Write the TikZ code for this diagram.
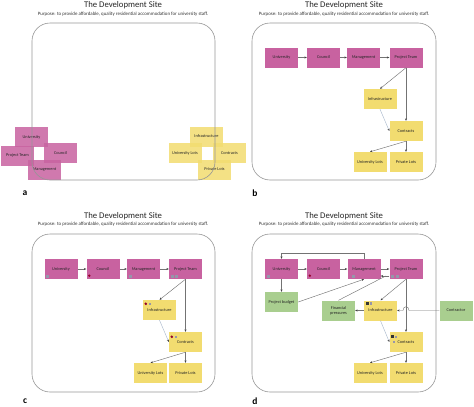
\documentclass[tikz,border=0pt]{standalone}
\usepackage{fontspec}
\setmainfont{Carlito}
\usetikzlibrary{arrows.meta,calc}
\definecolor{pk}{RGB}{200,98,160}
\definecolor{yl}{RGB}{242,220,112}
\definecolor{gr}{RGB}{169,206,143}
\definecolor{ed}{RGB}{115,115,115}
\definecolor{framec}{RGB}{150,150,150}
\definecolor{soft}{RGB}{170,185,205}
\definecolor{dot}{RGB}{150,0,40}
\definecolor{ico}{RGB}{150,150,170}
\begin{document}
\begin{tikzpicture}[x=1pt,y=-1pt,
 box/.style={minimum width=33pt,minimum height=20pt,inner sep=0pt,font=\fontsize{4.3}{5}\selectfont,text=black!85,align=center},
 pkbox/.style={box,fill=pk},
 ylbox/.style={box,fill=yl},
 grbox/.style={box,fill=gr},
 arr/.style={draw=ed,line width=0.45pt,-{Stealth[length=2.4pt,width=2pt,color=black!75]}},
 plain/.style={draw=ed,line width=0.45pt},
 softarr/.style={arr,draw=soft},
 site/.style={draw=framec,line width=0.6pt,rounded corners=18pt},
 ttl/.style={font=\fontsize{8.7}{10}\selectfont,text=black!85,inner sep=0pt},
 sub/.style={font=\fontsize{4.9}{6}\selectfont,text=black!80,inner sep=0pt},
 plabel/.style={font=\bfseries\fontsize{9.5}{11}\selectfont,inner sep=0pt},
 reddot/.style={fill=dot,draw=none},
 icon/.style={fill=ico,draw=none}]
\useasboundingbox (0,0) rectangle (474,407);

% ---------- titles ----------
\foreach \cx/\cy/\nm in {123/5.5/a,344/5.5/b,123/215.7/c,344/215.7/d}{
  \node[ttl] (t\nm) at (\cx,\cy) {The Development Site};
  \node[sub] (s\nm) at (\cx,\cy+8.2) {Purpose: to provide affordable, quality residential accommodation for university staff.};
}

% ---------- panel a ----------
\begin{scope}[every node/.append style={fill opacity=0.85,text opacity=1}]
\node[pkbox] (aU) at (31.5,137) {University};
\node[pkbox] (aC) at (60.5,153) {Council};
\node[pkbox] (aP) at (17.5,155.5) {Project Team};
\node[pkbox] (aM) at (44.5,169.5) {Management};
\node[ylbox] (aI) at (206.5,136.5) {Infrastructure};
\node[ylbox] (aL) at (185,153) {University Lots};
\node[ylbox] (aK) at (229.5,153) {Contracts};
\node[ylbox] (aR) at (214.5,169.5) {Private Lots};
\end{scope}
\draw[site] (32,23) rectangle (215,180);
\node[plabel] (la) at (25,193) {a};

% ---------- panel b ----------
\draw[site] (252,23) rectangle (436,180);
\node[pkbox] (bU) at (281.5,57.5) {University};
\node[pkbox] (bC) at (323.5,57.5) {Council};
\node[pkbox] (bM) at (363.5,57.5) {Management};
\node[pkbox] (bP) at (406,57.5) {Project Team};
\node[ylbox] (bI) at (380,99) {Infrastructure};
\node[ylbox] (bK) at (406,131) {Contracts};
\node[ylbox] (bL) at (370,162) {University Lots};
\node[ylbox] (bR) at (406,162) {Private Lots};
\draw[arr] (bU) -- (bC);
\draw[arr] (bC) -- (bM);
\draw[arr] (bM) -- (bP);
\draw[arr] (bP.south) -- (bI.north);
\draw[arr] (bP.south) -- (bK.north);
\draw[softarr] (bI.south) -- (bK.west);
\draw[arr] (bK.south) -- (bL.north);
\draw[arr] (bK.south) -- (bR.north);
\node[plabel] (lb) at (255,193) {b};

% ---------- panel c ----------
\draw[site] (32,234) rectangle (215,392);
\node[pkbox] (cU) at (61,269) {University};
\node[pkbox] (cC) at (103,269) {Council};
\node[pkbox] (cM) at (143.5,269) {Management};
\node[pkbox] (cP) at (185.5,269) {Project Team};
\node[ylbox] (cI) at (159.5,310) {Infrastructure};
\node[ylbox] (cK) at (185.5,342) {Contracts};
\node[ylbox] (cL) at (150.5,373) {University Lots};
\node[ylbox] (cR) at (185.5,373) {Private Lots};
\draw[arr] (cU) -- (cC);
\draw[arr] (cC) -- (cM);
\draw[arr] (cM) -- (cP);
\draw[arr] (cP.south) -- (cI.north);
\draw[arr] (cP.south) -- (cK.north);
\draw[softarr] (cI.south) -- (cK.west);
\draw[arr] (cK.south) -- (cL.north);
\draw[arr] (cK.south) -- (cR.north);
% markers
\fill[icon] ($(cU.south west)+(2,-4)$) rectangle ++(3,2.5);
\fill[reddot] ($(cC.south west)+(3,-3.5)$) circle (1.3);
\fill[icon] ($(cM.south west)+(2,-4)$) rectangle ++(3,2.5);
\fill[icon] ($(cP.south west)+(2,-4)$) rectangle ++(3,2.5);
\fill[icon] ($(cP.south west)+(6,-4)$) rectangle ++(3,2.5);
\fill[reddot] ($(cI.north west)+(3,4)$) circle (1.4);
\fill[icon] ($(cI.north west)+(6,2.8)$) rectangle ++(2,2.4);
\fill[reddot] ($(cK.north west)+(3,5)$) circle (1.4);
\fill[icon] ($(cK.north west)+(6,3.8)$) rectangle ++(2,2.4);
\node[plabel] (lc) at (25,401) {c};

% ---------- panel d ----------
\draw[site] (252,234) rectangle (436,392);
\node[pkbox] (dU) at (281.5,269) {University};
\node[pkbox] (dC) at (323.5,269) {Council};
\node[pkbox] (dM) at (364,269) {Management};
\node[pkbox] (dP) at (406,269) {Project Team};
\node[grbox] (dB) at (281.5,302) {Project budget};
\node[grbox] (dF) at (338.5,310.5) {Financial\\pressures};
\node[ylbox] (dI) at (380.5,310.5) {Infrastructure};
\node[grbox] (dX) at (456,310.5) {Contractor};
\node[ylbox] (dK) at (406,342) {Contracts};
\node[ylbox] (dL) at (370,373) {University Lots};
\node[ylbox] (dR) at (406,373) {Private Lots};
\draw[arr] (dU) -- (dC);
\draw[arr] (dC) -- (dM);
\draw[arr] (dM) -- (dP);
\draw[arr] (dM.north) -- ++(0,-6) -| (dU.north);
\draw[arr] (dU.south) -- (dB.north);
\draw[arr] (dB.east) -- (dM.south);
\coordinate (fpj) at ($(dM.east)+(5,7)$);
\draw[arr] ($(dP.west)+(0,7)$) -- ($(dM.east)+(0,7)$);
\draw[plain] (dF.north) -- (fpj);
\draw[arr] (dP.south) -- (dI.north);
\draw[arr] (dP.south) -- (dK.north);
\draw[softarr] (dI.south) -- (dK.west);
\draw[arr] (dI.west) -- (dF.east);
\coordinate (hopA) at ($(dP.south |- dI.east)+(3,0)$);
\coordinate (hopB) at ($(dP.south |- dI.east)+(-3,0)$);
\draw[arr] (dX.west) -- (hopA) .. controls ($(hopA)+(0,-5)$) and ($(hopB)+(0,-5)$) .. (hopB) -- (dI.east);
\draw[arr] (dK.south) -- (dL.north);
\draw[arr] (dK.south) -- (dR.north);
% markers
\fill[icon] ($(dU.south west)+(2,-4)$) rectangle ++(3,2.5);
\fill[reddot] ($(dC.south west)+(3,-3.5)$) circle (1.3);
\fill[icon] ($(dM.south west)+(5,-4)$) rectangle ++(3,2.5);
\fill[icon] ($(dP.south west)+(2,-4)$) rectangle ++(3,2.5);
\fill[icon] ($(dP.south west)+(7,-4)$) rectangle ++(3,2.5);
\fill[black!80] ($(dI.north west)+(2,1.5)$) rectangle ++(3,3);
\fill[icon] ($(dI.north west)+(6.5,2)$) rectangle ++(2,2.4);
\fill[black!80] ($(dK.north west)+(2,3.5)$) rectangle ++(3,3);
\fill[icon] ($(dK.north west)+(5.5,4)$) rectangle ++(2,2.4);
\fill[icon] ($(dK.west)+(3.5,-0.8)$) rectangle ++(2,2);
\node[plabel] (ld) at (255,401) {d};
\end{tikzpicture}
\end{document}
